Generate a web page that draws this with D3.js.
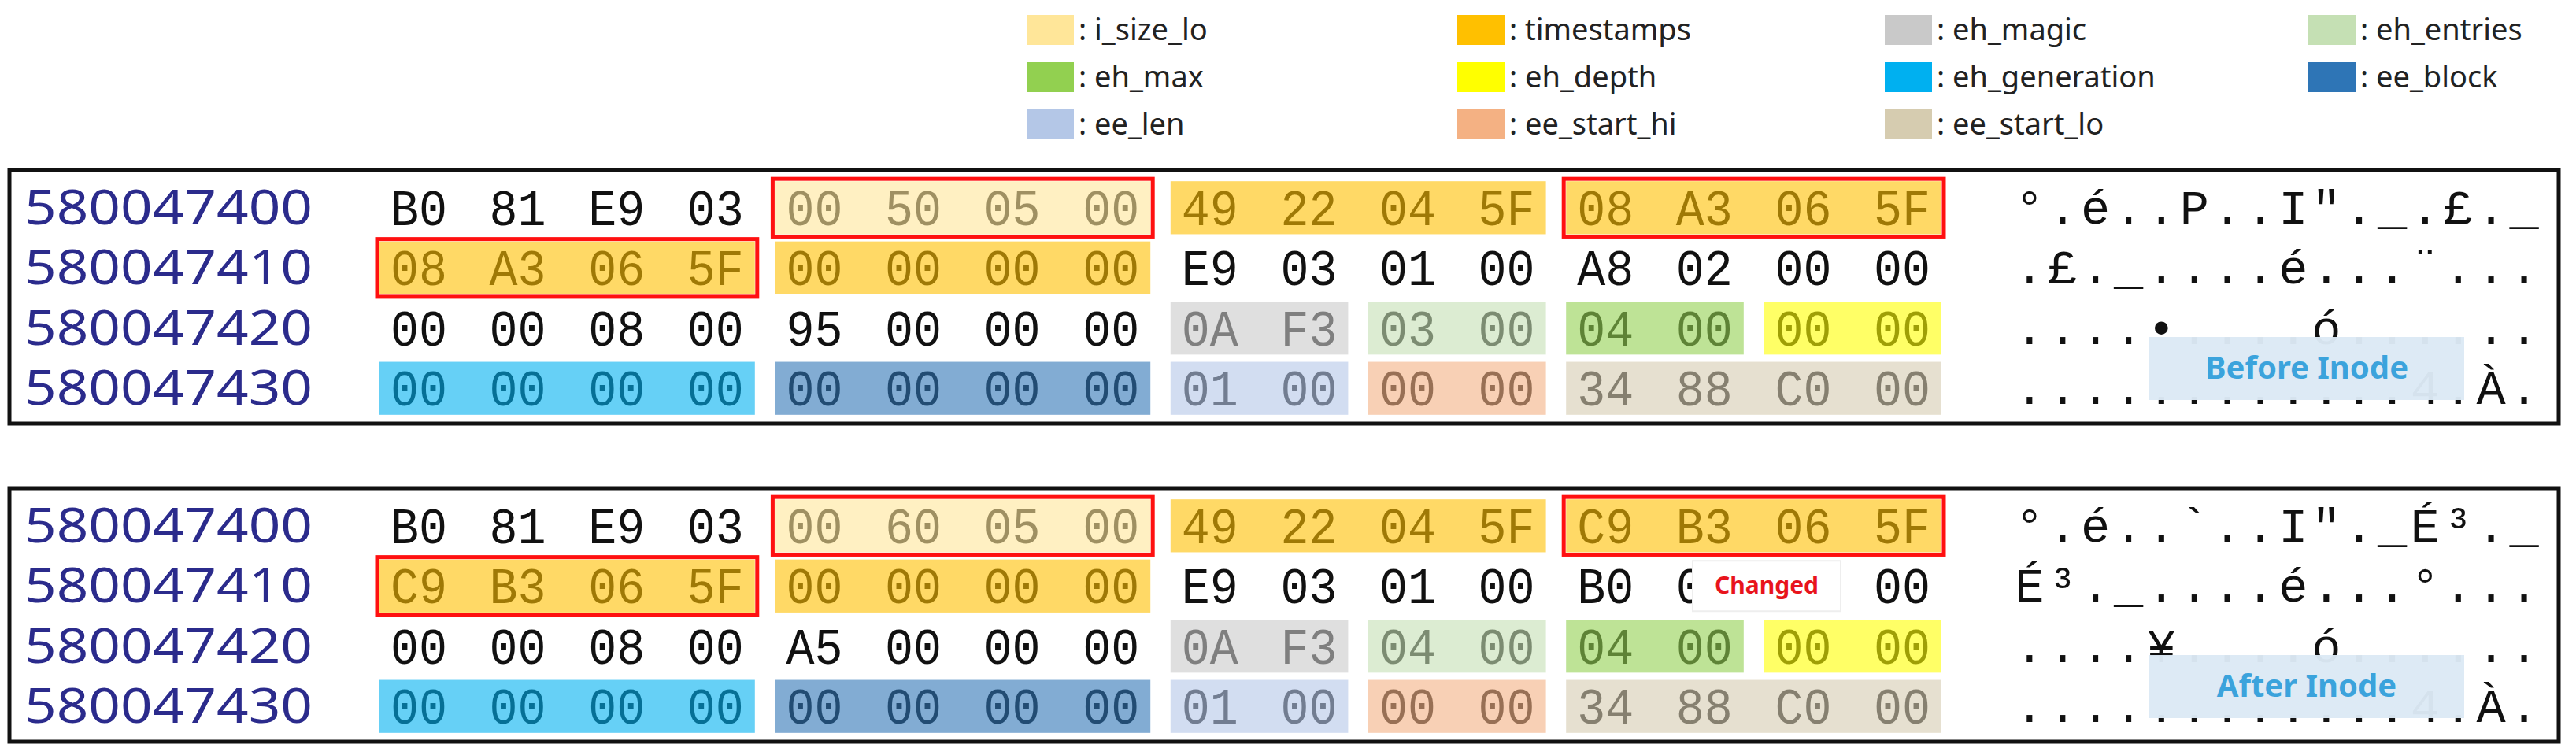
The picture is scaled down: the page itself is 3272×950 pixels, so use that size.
<!DOCTYPE html>
<html>
<head>
<meta charset="utf-8">
<script src="https://cdn.jsdelivr.net/npm/d3@7"></script>
<style>
  body { margin: 0; background: #fff; }
</style>
</head>
<body>
<svg id="chart" width="3272" height="950"></svg>
<script>
// Legend fields
const fieldNames = ["i_size_lo", "timestamps", "eh_magic", "eh_entries",
  "eh_max", "eh_depth", "eh_generation", "ee_block",
  "ee_len", "ee_start_hi", "ee_start_lo"];
const fieldColors = ["#ffe699", "#ffc000", "#c9c9c9", "#c5e0b4",
  "#92d050", "#ffff00", "#00b0f0", "#2e75b6",
  "#b4c7e7", "#f4b183", "#d6ccb0"];

// Offsets for each row
const addresses = ["580047400", "580047410", "580047420", "580047430"];

// Hex bytes of each dump
const beforeBytes = [
  ["B0","81","E9","03","00","50","05","00","49","22","04","5F","08","A3","06","5F"],
  ["08","A3","06","5F","00","00","00","00","E9","03","01","00","A8","02","00","00"],
  ["00","00","08","00","95","00","00","00","0A","F3","03","00","04","00","00","00"],
  ["00","00","00","00","00","00","00","00","01","00","00","00","34","88","C0","00"]
];
const afterBytes = [
  ["B0","81","E9","03","00","60","05","00","49","22","04","5F","C9","B3","06","5F"],
  ["C9","B3","06","5F","00","00","00","00","E9","03","01","00","B0","02","00","00"],
  ["00","00","08","00","A5","00","00","00","0A","F3","04","00","04","00","00","00"],
  ["00","00","00","00","00","00","00","00","01","00","00","00","34","88","C0","00"]
];
const beforeAscii = ["°.é..P..I\"._.£._", ".£._....é...¨...", "....•....ó......", "............4.À."];
const afterAscii = ["°.é..`..I\"._É³._", "É³._....é...°...", "....¥....ó......", "............4.À."];

// Highlighted spans: [row, firstByte, lastByte, field, redBox]
const spans = [
  [0, 4, 7, "i_size_lo", true], [0, 8, 11, "timestamps", false], [0, 12, 15, "timestamps", true],
  [1, 0, 3, "timestamps", true], [1, 4, 7, "timestamps", false],
  [2, 8, 9, "eh_magic", false], [2, 10, 11, "eh_entries", false],
  [2, 12, 13, "eh_max", false], [2, 14, 15, "eh_depth", false],
  [3, 0, 3, "eh_generation", false], [3, 4, 7, "ee_block", false],
  [3, 8, 9, "ee_len", false], [3, 10, 11, "ee_start_hi", false], [3, 12, 15, "ee_start_lo", false]
];

const svg = d3.select("#chart");
const color = d3.scaleOrdinal().domain(fieldNames).range(fieldColors);

// Legend
const legX = d3.scaleOrdinal().domain([0, 1, 2, 3]).range([1304, 1851, 2394, 2932]);
const legY = d3.scaleOrdinal().domain([0, 1, 2]).range([38, 98, 158]);
const leg = svg.append("g").selectAll("g").data(fieldNames).join("g")
  .attr("transform", (d, i) => `translate(${legX(i % 4)},${legY(Math.floor(i / 4))})`);
leg.append("rect").attr("x", 0).attr("y", -19).attr("width", 60).attr("height", 38)
  .attr("fill", d => color(d));
leg.append("text").attr("x", 66).attr("y", 13).attr("font-family", "Noto Sans")
  .attr("font-size", 38).attr("fill", "#222").text(d => ": " + d);

// Byte columns
const x = d3.scaleLinear().domain([0, 16]).range([482, 482 + 16 * 125.6]);
const cellW = 100;
const asciiX = d3.scaleLinear().domain([0, 16]).range([2557, 3227]);

function drawDump(top, bytes, ascii, label) {
  const g = svg.append("g");
  const y = d3.scaleBand().domain(d3.range(4)).range([top + 5, top + 320]).padding(0.12);
  const yc = r => y(r) + y.bandwidth() / 2;

  g.append("rect").attr("x", 12).attr("y", top).attr("width", 3238).attr("height", 322)
    .attr("fill", "none").attr("stroke", "#111").attr("stroke-width", 5);

  g.selectAll(".addr").data(addresses).join("text")
    .attr("x", 31).attr("y", (d, i) => yc(i) + 21)
    .attr("font-family", "Noto Sans").attr("font-size", 62)
    .attr("textLength", 366).attr("lengthAdjust", "spacingAndGlyphs")
    .attr("fill", "#2b2b8c").text(d => d);

  const cells = bytes.flatMap((row, r) => row.map((b, c) => ({ r, c, b })));
  g.selectAll(".hex").data(cells).join("text")
    .attr("x", d => x(d.c) + cellW / 2).attr("y", d => yc(d.r) + 22)
    .attr("text-anchor", "middle").attr("font-family", "Liberation Mono")
    .attr("font-size", 64).attr("textLength", 72).attr("lengthAdjust", "spacingAndGlyphs")
    .attr("fill", "#111").text(d => d.b);

  // coloured spans laid over the text, like a translucent marker
  g.selectAll(".span").data(spans).join("rect")
    .attr("x", d => x(d[1])).attr("y", d => y(d[0]))
    .attr("width", d => x(d[2]) - x(d[1]) + cellW).attr("height", y.bandwidth())
    .attr("fill", d => color(d[3])).attr("opacity", 0.6);

  g.selectAll(".red").data(spans.filter(d => d[4])).join("rect")
    .attr("x", d => x(d[1]) - 3).attr("y", d => y(d[0]) - 3)
    .attr("width", d => x(d[2]) - x(d[1]) + cellW + 6).attr("height", y.bandwidth() + 6)
    .attr("fill", "none").attr("stroke", "#ff1010").attr("stroke-width", 5);

  const chars = ascii.flatMap((row, r) => Array.from(row).map((ch, c) => ({ r, c, ch })));
  g.selectAll(".asc").data(chars).join("text")
    .attr("x", d => asciiX(d.c + 0.5)).attr("y", d => yc(d.r) + 20)
    .attr("text-anchor", "middle").attr("font-family", "Liberation Mono")
    .attr("font-size", 62).attr("fill", "#111").text(d => d.ch);

  g.append("rect").attr("x", 2730).attr("y", top + 212).attr("width", 400).attr("height", 80)
    .attr("fill", "#dce9f5").attr("opacity", 0.97);
  g.append("text").attr("x", 2930).attr("y", top + 265).attr("text-anchor", "middle")
    .attr("font-family", "Noto Sans").attr("font-weight", "bold").attr("font-size", 40)
    .attr("fill", "#3ba3dc").text(label);
  return yc;
}

drawDump(216, beforeBytes, beforeAscii, "Before Inode");
const yc2 = drawDump(620, afterBytes, afterAscii, "After Inode");

// "Changed" note over the after dump
svg.append("rect").attr("x", 2150).attr("y", yc2(1) - 32).attr("width", 188).attr("height", 64)
  .attr("fill", "#fff").attr("stroke", "#eee").attr("stroke-width", 2);
svg.append("text").attr("x", 2244).attr("y", yc2(1) + 10).attr("text-anchor", "middle")
  .attr("font-family", "Noto Sans").attr("font-weight", "bold").attr("font-size", 30)
  .attr("fill", "#e8141c").text("Changed");
</script>
</body>
</html>
